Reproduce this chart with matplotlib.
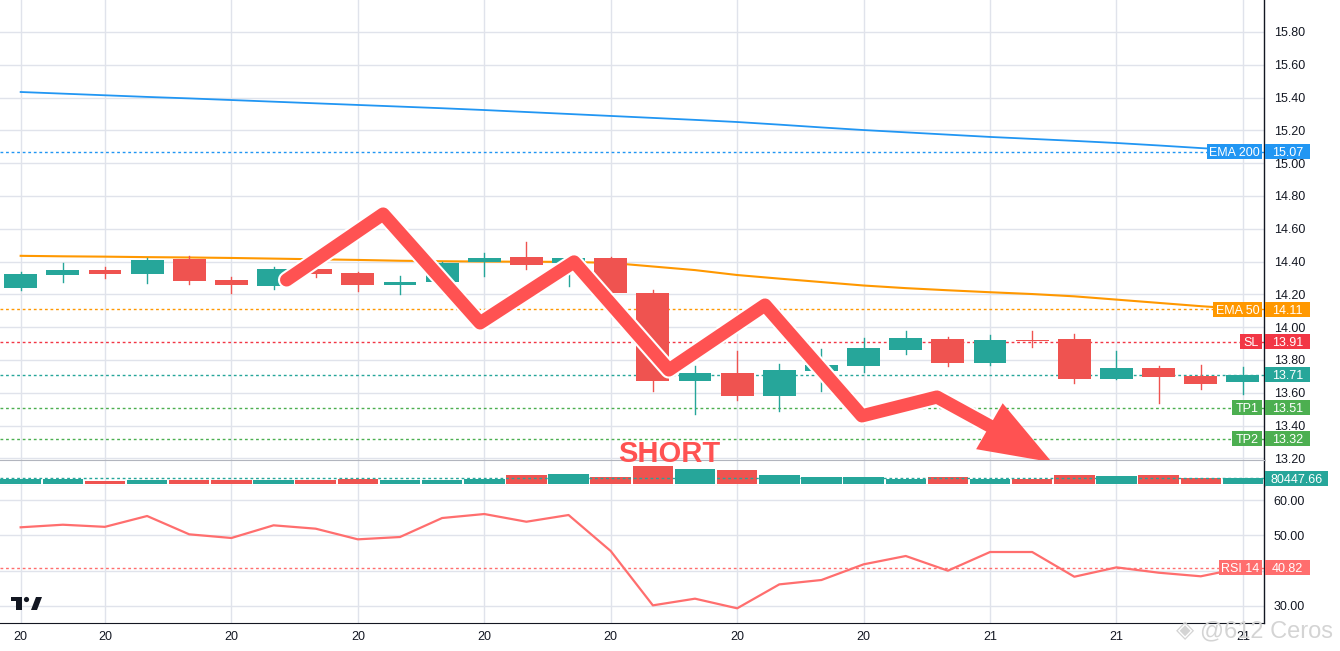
import matplotlib
matplotlib.use('Agg')
import matplotlib.pyplot as plt
import matplotlib.patheffects as pe
from matplotlib.patches import Rectangle, Polygon, Circle
from matplotlib.transforms import IdentityTransform

# candle data
opens = [14.241, 14.320, 14.349, 14.326, 14.416, 14.288, 14.253, 14.355, 14.330, 14.259,
         14.273, 14.396, 14.428, 14.390, 14.422, 14.210, 13.674, 13.721, 13.582, 13.735,
         13.765, 13.863, 13.928, 13.784, 13.922, 13.928, 13.686, 13.751, 13.702, 13.664]
highs = [14.335, 14.390, 14.365, 14.422, 14.434, 14.304, 14.367, 14.370, 14.335, 14.312,
         14.400, 14.451, 14.520, 14.430, 14.428, 14.225, 13.763, 13.855, 13.776, 13.867,
         13.934, 13.977, 13.940, 13.952, 13.977, 13.959, 13.855, 13.763, 13.770, 13.755]
lows = [14.229, 14.278, 14.302, 14.271, 14.265, 14.210, 14.235, 14.308, 14.221, 14.204,
        14.263, 14.314, 14.355, 14.253, 14.205, 13.613, 13.473, 13.558, 13.491, 13.613,
        13.729, 13.838, 13.765, 13.771, 13.881, 13.662, 13.686, 13.540, 13.625, 13.591]
closes = [14.324, 14.349, 14.326, 14.410, 14.283, 14.259, 14.355, 14.326, 14.259, 14.276,
          14.391, 14.422, 14.381, 14.420, 14.210, 13.674, 13.721, 13.582, 13.739, 13.770,
          13.873, 13.934, 13.784, 13.922, 13.918, 13.686, 13.751, 13.698, 13.656, 13.710]
volumes = [75000, 76000, 42000, 61000, 60000, 61000, 62000, 60000, 70000, 61000,
           62000, 71000, 128000, 141000, 98000, 258000, 212000, 197000, 131000, 98000,
           99000, 76000, 98000, 75000, 70000, 131000, 118000, 131000, 89000, 80447.66]
ema50 = [14.435, 14.432, 14.430, 14.427, 14.425, 14.422, 14.418, 14.414, 14.410, 14.405,
         14.402, 14.400, 14.399, 14.398, 14.392, 14.370, 14.348, 14.318, 14.296, 14.275,
         14.254, 14.238, 14.225, 14.213, 14.202, 14.188, 14.168, 14.148, 14.128, 14.111]
ema200 = [15.434, 15.424, 15.414, 15.404, 15.395, 15.385, 15.375, 15.365, 15.355, 15.345,
          15.335, 15.324, 15.312, 15.300, 15.288, 15.276, 15.264, 15.251, 15.235, 15.218,
          15.202, 15.188, 15.174, 15.160, 15.148, 15.136, 15.123, 15.108, 15.092, 15.077]
rsi = [52.27, 53.00, 52.40, 55.47, 50.28, 49.24, 52.83, 51.88, 48.86, 49.52,
       54.90, 56.03, 53.85, 55.75, 45.55, 30.16, 32.05, 29.32, 36.10, 37.34,
       41.78, 44.14, 39.98, 45.27, 45.27, 38.27, 40.92, 39.41, 38.39, 40.82]

tick_idx = [0, 2, 5, 8, 11, 14, 17, 20, 23, 26, 29]
tick_txt = ['20', '20', '20', '20', '20', '20', '20', '20', '21', '21', '21']
price_ticks = [13.2, 13.4, 13.6, 13.8, 14.0, 14.2, 14.4, 14.6, 14.8, 15.0, 15.2, 15.4, 15.6, 15.8]
rsi_ticks = [30, 40, 50, 60]
rsi_tick_txt = ['30.00', '', '50.00', '60.00']  # 40.00 sits under the RSI tag

ema200_last = 15.07
ema50_last = 14.11
sl_level = 13.91
last_price = 13.71
tp1_level = 13.51
tp2_level = 13.32
rsi_last = 40.82

# hand-drawn short arrow (bar index, price)
arrow_path = [(6.31, 14.288), (8.60, 14.690), (10.90, 14.026), (13.13, 14.398),
              (15.38, 13.739), (17.66, 14.135), (19.96, 13.459), (21.74, 13.574),
              (22.99, 13.398)]
arrow_head = [(22.67, 13.256), (23.30, 13.536), (24.47, 13.176)]

UP = '#26a69a'
DOWN = '#ef5350'
GRID = '#e0e3eb'
DARK = '#131722'
SEP = '#b2b5be'
BLUE = '#2196f3'
ORANGE = '#ff9800'
SLRED = '#f23645'
GREEN = '#4caf50'
RSICOL = '#ff6e6e'
ARROW = '#ff5252'

plt.rcParams['font.family'] = ['Liberation Sans', 'DejaVu Sans']

W, H = 1340, 651
fig = plt.figure(figsize=(W / 100, H / 100), dpi=100)
fig.patch.set_facecolor('white')

right = 1264 / W
ax_p = fig.add_axes([0, 1 - 460 / H, right, 460 / H])
ax_v = fig.add_axes([0, 1 - 486 / H, right, 26 / H], sharex=ax_p)
ax_r = fig.add_axes([0, 1 - 623 / H, right, 137 / H], sharex=ax_p)

n = len(closes)
xs = list(range(n))
colors = [UP if c >= o else DOWN for o, c in zip(opens, closes)]

# candles
for i in xs:
    ax_p.plot([i, i], [lows[i], highs[i]], color=colors[i], lw=1, zorder=3)
    lo, hi = min(opens[i], closes[i]), max(opens[i], closes[i])
    ax_p.bar(i, max(hi - lo, 0.006), bottom=lo, width=0.78, color=colors[i], zorder=3, linewidth=0)

ax_p.plot(xs, ema200, color=BLUE, lw=1.3, zorder=2)
ax_p.plot(xs, ema50, color=ORANGE, lw=1.5, zorder=2)

for lvl, col in [(ema200_last, BLUE), (ema50_last, ORANGE), (sl_level, SLRED),
                 (last_price, UP), (tp1_level, GREEN), (tp2_level, GREEN)]:
    ax_p.axhline(lvl, color=col, lw=1, ls=(0, (2, 2)), zorder=2)

# arrow annotation
ax_xs = [p[0] for p in arrow_path]
ax_ys = [p[1] for p in arrow_path]
ax_p.plot(ax_xs, ax_ys, color=ARROW, lw=9.5, solid_capstyle='round', solid_joinstyle='round',
          zorder=6, clip_on=False,
          path_effects=[pe.Stroke(linewidth=12.5, foreground='white'), pe.Normal()])
ax_p.add_patch(Polygon(arrow_head, closed=True, facecolor=ARROW, edgecolor='none',
                       zorder=7, clip_on=False))

ax_p.set_xlim(-0.49, 29.5)
ax_p.set_ylim(13.19, 15.995)
ax_p.set_yticks(price_ticks)
ax_p.set_yticklabels(['%.2f' % t for t in price_ticks])

# volume
ax_v.bar(xs, volumes, width=0.96, color=colors, linewidth=0, zorder=3)
ax_v.axhline(volumes[-1], color=UP, lw=1, ls=(0, (2, 2)), zorder=4)
ax_v.set_ylim(-28200, 338700)
ax_v.set_yticks([])

# rsi
ax_r.plot(xs, rsi, color=RSICOL, lw=1.6, zorder=3)
ax_r.axhline(rsi_last, color=RSICOL, lw=1, ls=(0, (2, 2)), zorder=2)
ax_r.set_ylim(25.16, 63.97)
ax_r.set_yticks(rsi_ticks)
ax_r.set_yticklabels(rsi_tick_txt)
ax_r.set_xticks(tick_idx)
ax_r.set_xticklabels(tick_txt)

for ax in (ax_p, ax_v, ax_r):
    ax.set_facecolor('white')
    ax.set_xticks(tick_idx)
    ax.grid(True, color=GRID, lw=1, zorder=0)
    ax.set_axisbelow(True)
    ax.yaxis.tick_right()
    ax.tick_params(axis='y', length=0, pad=7, labelsize=9, labelcolor=DARK)
    ax.tick_params(axis='x', length=0, pad=6, labelsize=9, labelcolor=DARK)
    for s in ('left', 'top', 'bottom'):
        ax.spines[s].set_visible(False)
    ax.spines['right'].set_color(DARK)
    ax.spines['right'].set_linewidth(1)
ax_v.grid(True, axis='x', color=GRID, lw=1)
ax_v.grid(False, axis='y')
ax_p.tick_params(axis='x', labelbottom=False)
ax_v.tick_params(axis='x', labelbottom=False)
ax_v.spines['top'].set_visible(True)
ax_v.spines['top'].set_color(SEP)
ax_v.spines['bottom'].set_visible(True)
ax_v.spines['bottom'].set_color(SEP)
ax_r.spines['bottom'].set_visible(True)
ax_r.spines['bottom'].set_color(DARK)

# price-scale tags
ident = IdentityTransform()


def tag(ax, yval, text, color, x0, x1):
    yd = ax.transData.transform((0, yval))[1]
    fig.add_artist(Rectangle((x0, yd - 7.5), x1 - x0, 15, transform=ident,
                             facecolor=color, edgecolor='none', zorder=10))
    fig.text((x0 + x1) / 2, yd - 4.4, text, transform=ident, ha='center', va='baseline',
             color='white', fontsize=9, zorder=11)


tag(ax_p, ema200_last, 'EMA 200', BLUE, 1207, 1262)
tag(ax_p, ema200_last, '%.2f' % ema200_last, BLUE, 1265, 1310)
tag(ax_p, ema50_last, 'EMA 50', ORANGE, 1213, 1262)
tag(ax_p, ema50_last, '%.2f' % ema50_last, ORANGE, 1265, 1310)
tag(ax_p, sl_level, 'SL', SLRED, 1240, 1262)
tag(ax_p, sl_level, '%.2f' % sl_level, SLRED, 1265, 1310)
tag(ax_p, last_price, '%.2f' % last_price, UP, 1265, 1310)
tag(ax_p, tp1_level, 'TP1', GREEN, 1232, 1262)
tag(ax_p, tp1_level, '%.2f' % tp1_level, GREEN, 1265, 1310)
tag(ax_p, tp2_level, 'TP2', GREEN, 1232, 1262)
tag(ax_p, tp2_level, '%.2f' % tp2_level, GREEN, 1265, 1310)
tag(ax_v, volumes[-1], '%.2f' % volumes[-1], UP, 1265, 1328)
tag(ax_r, rsi_last, 'RSI 14', RSICOL, 1219, 1262)
tag(ax_r, rsi_last, '%.2f' % rsi_last, RSICOL, 1265, 1310)

# SHORT label
fig.text(669, H - 462, 'SHORT', transform=ident, ha='center', va='baseline',
         color=ARROW, fontsize=21, fontweight='bold', zorder=12)

# TradingView logo
fig.add_artist(Rectangle((11, H - 601), 11, 4, transform=ident, facecolor=DARK, zorder=12))
fig.add_artist(Rectangle((16, H - 610), 6, 13, transform=ident, facecolor=DARK, zorder=12))
fig.add_artist(Circle((26.5, H - 599.5), 2.6, transform=ident, facecolor=DARK, zorder=12))
fig.add_artist(Polygon([(31, H - 610), (36, H - 597), (42, H - 597), (37, H - 610)],
                       transform=ident, facecolor=DARK, zorder=12))

# watermark
fig.text(1185, H - 637, '\u25c8', transform=ident, ha='center', va='baseline',
         color='#d4d4d4', fontsize=17, family='DejaVu Sans', zorder=12)
fig.text(1200, H - 637, '@612 Ceros', transform=ident, ha='left', va='baseline',
         color='#d4d4d4', fontsize=17, zorder=12)

fig.savefig('out.png', dpi=100)
